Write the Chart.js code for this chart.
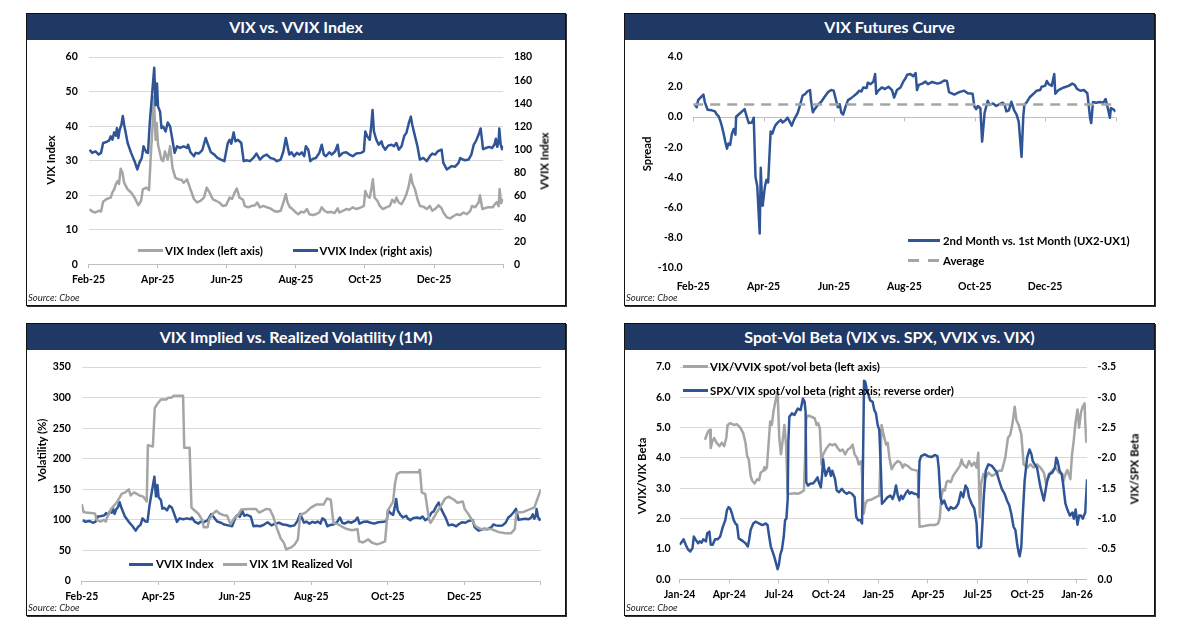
<!DOCTYPE html>
<html>
<head>
<meta charset="utf-8">
<title>VIX dashboard</title>
<script src="https://cdn.jsdelivr.net/npm/chart.js@4.4.1/dist/chart.umd.min.js"></script>
<style>
html,body{margin:0;padding:0;background:#fff;}
body{width:1200px;height:633px;position:relative;overflow:hidden;font-family:Lato,'Open Sans',sans-serif;color:#000;}
.panel{position:absolute;height:293px;background:#fff;}
.frame{position:absolute;left:0;top:0;right:0;bottom:0;border:1px solid #111;box-shadow:1px 1px 0 #333;pointer-events:none;}
.ttl{position:absolute;left:0;top:0;right:0;height:27px;background:#203864;color:#fff;font-weight:700;font-size:16px;line-height:27px;text-align:center;}
canvas{position:absolute;left:0;top:27px;}
.src{position:absolute;left:2px;top:279px;font-size:9.5px;font-style:italic;color:#222;line-height:12px;}
.sw{position:absolute;height:3px;}
.lt{position:absolute;font-size:11.4px;font-weight:700;line-height:14px;white-space:nowrap;}
.at{position:absolute;font-size:11.3px;font-weight:700;white-space:nowrap;transform:translate(-50%,-50%) rotate(-90deg);}
</style>
</head>
<body>

<div class="panel" id="p1" style="left:26px;top:13px;width:540px;">
  <div class="ttl">VIX vs. VVIX Index</div>
  <canvas id="c1" width="540" height="266"></canvas>
  <div class="at" style="left:24px;top:147px;">VIX Index</div>
  <div class="at" style="left:518px;top:148px;">VVIX Index</div>
  <div class="sw" style="left:112px;top:236px;width:25px;background:#A5A5A5;"></div>
  <div class="lt" style="left:139px;top:230.5px;">VIX Index (left axis)</div>
  <div class="sw" style="left:267px;top:236px;width:25px;background:#2F5597;"></div>
  <div class="lt" style="left:293.5px;top:230.5px;">VVIX Index (right axis)</div>
  <div class="src">Source: Cboe</div>
  <div class="frame"></div>
</div>

<div class="panel" id="p2" style="left:624px;top:13px;width:531px;">
  <div class="ttl">VIX Futures Curve</div>
  <canvas id="c2" width="531" height="266"></canvas>
  <div class="at" style="left:21.5px;top:141px;">Spread</div>
  <div class="sw" style="left:283.5px;top:226px;width:32px;background:#2F5597;"></div>
  <div class="lt" style="left:319px;top:220.5px;">2nd Month vs. 1st Month (UX2-UX1)</div>
  <div class="sw" style="left:283.5px;top:246px;width:31px;background:repeating-linear-gradient(90deg,#A5A5A5 0 11px,transparent 11px 20px);"></div>
  <div class="lt" style="left:319px;top:240.5px;">Average</div>
  <div class="src">Source: Cboe</div>
  <div class="frame"></div>
</div>

<div class="panel" id="p3" style="left:26px;top:323px;width:540px;">
  <div class="ttl">VIX Implied vs. Realized Volatility (1M)</div>
  <canvas id="c3" width="540" height="266"></canvas>
  <div class="at" style="left:15px;top:127px;">Volatility (%)</div>
  <div class="sw" style="left:103px;top:239.5px;width:24px;background:#2F5597;"></div>
  <div class="lt" style="left:130px;top:234px;">VVIX Index</div>
  <div class="sw" style="left:196.5px;top:239.5px;width:24px;background:#A5A5A5;"></div>
  <div class="lt" style="left:223.5px;top:234px;">VIX 1M Realized Vol</div>
  <div class="src">Source: Cboe</div>
  <div class="frame"></div>
</div>

<div class="panel" id="p4" style="left:624px;top:323px;width:531px;">
  <div class="ttl">Spot-Vol Beta (VIX vs. SPX, VVIX vs. VIX)</div>
  <canvas id="c4" width="531" height="266"></canvas>
  <div class="at" style="left:17px;top:153px;">VVIX/VIX Beta</div>
  <div class="at" style="left:509.5px;top:146px;">VIX/SPX Beta</div>
  <div class="sw" style="left:59px;top:42px;width:24.5px;background:#A5A5A5;"></div>
  <div class="lt" style="left:86px;top:36.5px;">VIX/VVIX spot/vol beta (left axis)</div>
  <div class="sw" style="left:59px;top:66px;width:24.5px;background:#2F5597;"></div>
  <div class="lt" style="left:86px;top:60.5px;">SPX/VIX spot/vol beta (right axis; reverse order)</div>
  <div class="src">Source: Cboe</div>
  <div class="frame"></div>
</div>

<script>
// ---------------- DATA ----------------
// x positions are months since 1 Feb 2025 (panels 1-3) or since 1 Jan 2024 (panel 4)

// Tick labels
const monthTicks2025 = [0, 2, 4, 6, 8, 10, 12];
const monthLabels2025 = ['Feb-25', 'Apr-25', 'Jun-25', 'Aug-25', 'Oct-25', 'Dec-25', ''];
const quarterTicks = [0, 3, 6, 9, 12, 15, 18, 21, 24];
const quarterLabels = ['Jan-24', 'Apr-24', 'Jul-24', 'Oct-24', 'Jan-25', 'Apr-25', 'Jul-25', 'Oct-25', 'Jan-26'];
const vixAxisTicks = [0, 10, 20, 30, 40, 50, 60];
const vvixAxisTicks = [0, 20, 40, 60, 80, 100, 120, 140, 160, 180];
const spreadAxisTicks = [-10, -8, -6, -4, -2, 0, 2, 4];
const volAxisTicks = [0, 50, 100, 150, 200, 250, 300, 350];
const betaLeftTicks = [0, 1, 2, 3, 4, 5, 6, 7];
const betaRightTicks = [-3.5, -3, -2.5, -2, -1.5, -1, -0.5, 0];

// Panel 1: VIX index (left axis)
const vixMonths = [
  0.03,0.10,0.20,0.29,0.36,0.42,0.52,0.64,0.69,0.74,
  0.79,0.84,0.88,0.93,0.98,1.03,1.13,1.23,1.33,1.44,
  1.52,1.57,1.67,1.75,1.80,1.85,1.89,1.94,1.97,2.01,
  2.11,2.16,2.21,2.29,2.36,2.43,2.51,2.60,2.70,2.75,
  2.85,2.95,3.05,3.14,3.24,3.34,3.42,3.49,3.59,3.69,
  3.78,3.88,3.98,4.08,4.15,4.23,4.29,4.37,4.47,4.52,
  4.62,4.72,4.82,4.88,4.96,5.06,5.16,5.26,5.36,5.45,
  5.56,5.64,5.71,5.76,5.83,5.90,6.00,6.07,6.15,6.24,
  6.32,6.39,6.49,6.58,6.68,6.75,6.83,6.92,7.02,7.12,
  7.21,7.26,7.36,7.46,7.55,7.65,7.75,7.89,7.97,8.01,
  8.07,8.14,8.20,8.23,8.28,8.36,8.43,8.52,8.62,8.72,
  8.79,8.86,8.91,8.98,9.06,9.14,9.20,9.27,9.33,9.37,
  9.45,9.52,9.59,9.69,9.79,9.88,9.95,10.03,10.13,10.22,
  10.27,10.37,10.47,10.56,10.66,10.76,10.85,10.95,11.05,11.10,
  11.19,11.29,11.33,11.40,11.55,11.70,11.77,11.82,11.87,11.90,
  11.94,12.00];
const vixValues = [
  16.0,15.3,15.0,15.5,15.3,18.1,18.9,19.3,20.8,21.7,
  23.2,24.1,23.3,27.7,26.5,23.6,21.7,20.8,19.3,17.1,
  18.4,21.7,22.2,21.5,31.3,39.9,48.5,36.1,40.9,34.6,
  30.3,29.9,32.7,30.3,34.2,27.9,25.1,24.6,24.4,23.6,
  24.6,21.7,18.9,17.9,18.4,19.3,22.2,21.0,18.9,18.4,
  17.9,16.9,17.1,19.3,18.9,20.8,21.9,19.3,18.7,16.9,
  16.5,16.9,17.1,17.9,16.5,16.9,16.5,16.2,15.5,15.2,
  15.5,17.9,20.3,17.9,16.5,16.0,15.0,14.5,15.2,15.0,
  16.0,14.5,14.3,14.5,15.0,16.5,15.5,15.0,15.2,14.8,
  16.2,15.0,15.5,16.0,15.8,16.5,16.0,16.5,16.9,21.2,
  19.8,19.3,22.7,24.6,19.3,18.4,16.9,16.0,16.5,16.9,
  18.7,17.9,19.3,17.9,17.4,18.9,20.3,22.7,26.0,23.6,
  21.7,18.9,16.9,16.7,16.0,16.9,15.5,16.0,17.1,16.2,
  15.0,13.6,13.3,13.9,14.5,14.3,15.0,14.5,15.5,16.9,
  16.5,17.9,20.0,16.0,16.5,16.5,17.5,18.0,16.8,21.8,
  17.7,18.9];

// Panel 1 & 3: VVIX index
const vvixMonths = [
  0.03,0.10,0.20,0.29,0.36,0.42,0.49,0.59,0.64,0.69,
  0.74,0.79,0.82,0.86,0.90,0.95,0.99,1.03,1.13,1.23,
  1.33,1.41,1.47,1.54,1.59,1.67,1.72,1.77,1.84,1.90,
  1.94,1.98,2.01,2.07,2.11,2.16,2.23,2.29,2.36,2.41,
  2.49,2.56,2.65,2.75,2.85,2.88,2.95,3.05,3.10,3.19,
  3.29,3.39,3.44,3.54,3.64,3.73,3.83,3.93,4.03,4.08,
  4.13,4.20,4.25,4.32,4.42,4.49,4.57,4.67,4.77,4.86,
  4.96,5.06,5.16,5.26,5.36,5.45,5.56,5.64,5.71,5.76,
  5.81,5.87,5.95,6.03,6.10,6.17,6.24,6.29,6.36,6.42,
  6.49,6.58,6.68,6.75,6.81,6.87,6.97,7.04,7.14,7.21,
  7.26,7.36,7.46,7.55,7.65,7.75,7.89,7.97,8.01,8.07,
  8.14,8.18,8.22,8.26,8.33,8.40,8.48,8.52,8.59,8.67,
  8.77,8.84,8.91,8.98,9.06,9.14,9.20,9.27,9.33,9.37,
  9.45,9.52,9.59,9.69,9.79,9.88,9.95,10.03,10.11,10.22,
  10.27,10.37,10.44,10.51,10.61,10.71,10.76,10.83,10.90,11.00,
  11.08,11.15,11.21,11.29,11.35,11.42,11.50,11.60,11.68,11.75,
  11.79,11.83,11.87,11.89,11.93,11.97,12.00];
const vvixValues = [
  99.6,96.8,98.2,95.3,96.8,105.4,106.0,107.4,111.1,108.2,
  114.6,111.7,118.3,109.7,116.9,121.2,128.9,121.2,105.4,96.8,
  89.6,82.4,88.1,92.4,102.5,97.3,96.8,122.6,148.4,170.8,
  138.3,157.0,137.0,132.6,118.3,119.7,115.4,123.2,119.7,111.1,
  96.8,102.5,101.1,102.5,101.1,103.9,97.3,93.9,96.8,96.2,
  99.1,109.7,105.4,97.3,95.3,92.4,91.0,89.6,105.4,108.2,
  104.8,114.6,106.8,108.2,105.4,89.6,90.4,89.6,92.4,96.2,
  91.0,93.9,95.3,92.4,91.6,89.6,91.0,98.2,109.7,102.5,
  95.3,97.3,93.9,96.8,95.3,97.3,93.9,102.5,99.6,89.6,
  91.6,92.4,96.8,103.9,95.3,93.9,97.3,95.3,98.2,103.9,
  93.9,96.8,97.3,95.3,93.9,96.2,96.8,98.2,115.4,111.1,
  108.2,119.7,134.1,115.4,108.2,103.9,106.8,102.5,99.6,103.1,
  103.9,102.5,105.4,99.6,102.5,111.7,114.0,122.6,128.3,121.2,
  111.1,102.5,91.0,92.4,89.6,93.9,96.2,95.3,98.2,99.6,
  88.1,82.4,83.9,85.3,84.8,88.1,92.4,91.0,90.4,91.0,
  95.3,103.9,106.8,112.5,118.0,100.0,101.0,102.0,101.0,104.0,
  109.0,102.0,107.0,118.0,104.0,100.0,103.0];

// Panel 2: UX2-UX1 spread
const spreadMonths = [
  0.03,0.10,0.14,0.24,0.29,0.33,0.41,0.53,0.62,0.67,
  0.72,0.77,0.81,0.86,0.91,0.96,1.00,1.05,1.10,1.15,
  1.20,1.22,1.29,1.39,1.46,1.53,1.58,1.67,1.72,1.77,
  1.82,1.89,1.92,1.96,1.98,2.04,2.08,2.13,2.20,2.25,
  2.30,2.34,2.42,2.49,2.54,2.63,2.68,2.73,2.80,2.87,
  2.97,3.03,3.11,3.19,3.25,3.32,3.35,3.40,3.44,3.54,
  3.64,3.73,3.83,3.92,3.99,4.07,4.11,4.16,4.21,4.26,
  4.33,4.40,4.47,4.55,4.64,4.72,4.78,4.83,4.93,4.96,
  5.04,5.12,5.17,5.20,5.26,5.36,5.45,5.55,5.65,5.71,
  5.79,5.89,5.98,6.03,6.08,6.17,6.25,6.32,6.36,6.41,
  6.51,6.60,6.67,6.79,6.94,7.03,7.13,7.21,7.27,7.42,
  7.56,7.70,7.80,7.94,7.99,8.04,8.09,8.16,8.21,8.28,
  8.37,8.42,8.52,8.61,8.71,8.80,8.85,8.90,8.97,9.04,
  9.12,9.19,9.25,9.33,9.38,9.41,9.47,9.57,9.67,9.76,
  9.86,9.90,10.00,10.05,10.10,10.19,10.26,10.29,10.38,10.53,
  10.67,10.77,10.84,10.91,11.00,11.10,11.20,11.28,11.31,11.36,
  11.45,11.55,11.65,11.72,11.79,11.84,11.87,11.95,12.00];
const spreadValues = [
  0.87,0.66,1.13,1.38,1.50,1.00,0.49,0.45,0.38,0.17,
  0.06,-0.25,-0.57,-1.04,-1.63,-2.10,-1.76,-1.85,-1.10,-0.79,
  -1.17,0.02,0.17,0.38,0.53,-0.04,-0.40,-0.36,-0.04,-3.97,
  -4.60,-7.75,-3.38,-5.88,-5.77,-4.60,-4.18,-4.35,-0.96,-1.10,
  -0.74,-0.53,-0.32,-0.19,-0.36,-0.19,-0.04,-0.25,-0.57,-0.15,
  0.28,0.74,1.44,1.55,1.72,1.80,1.08,0.32,0.49,0.81,
  1.02,1.34,1.66,1.80,1.76,1.02,0.66,0.87,0.28,0.17,
  0.70,1.13,1.23,1.38,1.55,1.76,1.70,1.97,1.93,2.29,
  2.19,2.36,2.87,1.55,1.76,1.97,1.87,2.02,1.80,1.30,
  1.80,1.97,2.40,2.57,2.82,2.87,2.72,2.93,1.80,2.14,
  2.23,2.36,2.19,2.34,2.23,2.29,2.44,2.40,1.66,1.50,
  1.66,1.76,1.59,1.55,0.70,0.53,0.74,0.59,-1.63,0.28,
  1.08,0.81,0.91,0.74,0.87,0.96,0.81,0.38,0.45,1.02,
  0.45,0.17,-0.32,-2.65,0.06,0.81,0.96,1.34,1.55,1.76,
  1.80,2.02,2.08,2.40,2.19,2.08,2.87,1.55,1.80,1.97,
  2.08,2.23,2.14,1.87,1.76,1.80,1.59,-0.10,-0.40,1.00,
  0.95,1.00,0.95,1.20,0.50,-0.05,0.60,0.50,0.35];
const spreadAverage = 0.83;

// Panel 3: VIX 1M realized volatility
const rvolMonths = [
  0.00,0.05,0.11,0.30,0.35,0.39,0.49,0.58,0.63,0.67,
  0.77,0.91,1.05,1.14,1.23,1.28,1.37,1.51,1.61,1.70,
  1.73,1.86,1.91,1.98,2.07,2.21,2.26,2.35,2.40,2.65,
  2.68,2.82,2.87,2.96,3.05,3.15,3.19,3.29,3.33,3.43,
  3.52,3.61,3.75,3.80,3.89,3.99,4.08,4.17,4.36,4.55,
  4.64,4.83,4.92,5.01,5.11,5.20,5.29,5.34,5.48,5.57,
  5.65,5.71,5.85,5.99,6.13,6.32,6.41,6.51,6.58,6.69,
  6.83,6.93,7.07,7.21,7.25,7.35,7.49,7.58,7.72,7.82,
  7.93,8.00,8.14,8.19,8.24,8.33,8.80,8.84,8.89,8.98,
  9.08,9.12,9.26,9.36,9.50,9.59,9.73,9.82,9.96,10.01,
  10.10,10.20,10.29,10.43,10.71,10.90,11.08,11.22,11.32,11.36,
  11.55,11.74,11.83,12.00];
const rvolValues = [
  126,113,112,111,110,100,97,100,97,105,
  118,128,143,145,150,140,145,140,138,130,
  222,220,283,290,297,297,300,300,303,303,
  218,218,120,115,110,100,88,88,100,110,
  115,110,107,107,93,103,107,117,118,118,
  112,118,117,105,85,70,62,52,55,60,
  68,108,112,120,125,125,135,133,95,93,
  88,85,83,85,65,63,68,63,60,62,
  65,115,130,160,175,178,178,182,145,142,
  100,95,110,120,135,138,133,128,130,118,
  110,100,90,85,85,80,78,78,85,112,
  113,118,120,150];

// Panel 4: VIX/VVIX spot-vol beta (left axis)
const betaVvixMonths = [
  1.53,1.63,1.73,1.84,1.88,1.98,2.08,2.24,2.41,2.55,
  2.69,2.82,2.90,3.06,3.27,3.47,3.67,3.84,3.98,4.08,
  4.18,4.29,4.39,4.53,4.69,4.80,4.90,5.06,5.12,5.16,
  5.27,5.35,5.47,5.57,5.67,5.82,5.92,6.02,6.12,6.22,
  6.33,6.43,6.53,6.73,6.94,7.14,7.35,7.51,7.65,7.76,
  7.96,8.16,8.27,8.37,8.47,8.57,8.67,8.88,9.08,9.22,
  9.39,9.55,9.69,9.84,10.00,10.16,10.31,10.45,10.57,10.71,
  10.82,10.98,11.12,11.22,11.33,11.55,11.86,12.06,12.20,12.32,
  12.47,12.57,12.67,12.81,12.97,13.18,13.34,13.48,13.58,13.78,
  13.99,14.19,14.39,14.49,14.80,15.10,15.41,15.61,15.71,15.81,
  15.91,16.02,16.12,16.22,16.38,16.52,16.73,16.93,17.03,17.13,
  17.33,17.48,17.64,17.80,17.94,18.04,18.13,18.21,18.35,18.49,
  18.65,18.86,19.06,19.26,19.46,19.67,19.83,19.97,20.11,20.24,
  20.34,20.48,20.64,20.78,20.99,21.19,21.39,21.59,21.80,22.00,
  22.14,22.30,22.51,22.71,22.91,23.12,23.16,23.33,23.42,23.60,
  23.70,23.81,23.92,24.03,24.13,24.24,24.35,24.46,24.50,24.57];
const betaVvixValues = [
  4.60,4.75,4.88,4.93,4.33,4.55,4.66,4.50,4.39,4.50,
  4.39,4.66,5.09,5.15,5.09,5.11,5.00,4.82,4.50,4.06,
  3.95,3.41,3.25,3.16,3.30,3.27,3.52,3.58,3.70,3.60,
  3.68,4.28,5.20,5.09,5.53,5.96,6.18,4.66,4.12,4.55,
  5.09,4.44,2.82,2.82,2.84,2.82,2.87,2.93,5.31,5.40,
  5.36,5.31,5.09,5.15,4.98,3.79,4.12,4.33,4.46,4.42,
  4.46,4.33,4.23,4.28,4.12,4.28,4.33,4.44,4.12,4.01,
  3.79,3.90,2.17,2.49,2.60,2.62,2.71,2.76,5.09,4.77,
  4.44,4.50,4.01,3.63,3.79,3.90,3.85,3.68,3.79,3.74,
  3.63,3.60,3.58,1.73,1.76,1.79,1.79,1.84,2.00,2.71,
  2.98,2.93,3.20,3.25,3.20,3.41,3.58,3.74,3.95,3.79,
  3.68,3.90,3.74,3.85,3.68,4.17,2.06,3.14,3.47,3.36,
  3.52,3.41,3.47,3.58,3.58,4.01,4.66,4.77,5.15,5.69,
  5.25,5.09,4.77,3.79,3.68,3.79,3.68,3.79,3.68,3.52,
  3.14,3.47,3.58,3.68,3.52,3.47,3.20,3.50,3.60,3.30,
  4.10,4.60,5.20,5.60,5.00,5.50,5.70,5.80,5.20,4.50];

// Panel 4: SPX/VIX spot-vol beta (right axis, reversed)
const betaSpxMonths = [
  0.00,0.16,0.24,0.37,0.51,0.65,0.78,0.86,0.98,1.12,
  1.22,1.33,1.43,1.59,1.67,1.80,1.88,2.00,2.14,2.29,
  2.45,2.61,2.76,2.86,2.96,3.06,3.16,3.27,3.37,3.47,
  3.57,3.71,3.84,3.98,4.12,4.20,4.29,4.45,4.59,4.80,
  5.00,5.20,5.31,5.41,5.51,5.61,5.71,5.82,5.92,6.00,
  6.08,6.18,6.29,6.37,6.45,6.53,6.57,6.63,6.78,6.94,
  7.04,7.14,7.31,7.45,7.55,7.61,7.65,7.76,7.92,8.06,
  8.20,8.33,8.41,8.53,8.61,8.67,8.73,8.82,8.94,9.02,
  9.14,9.22,9.39,9.49,9.63,9.80,9.96,10.10,10.24,10.41,
  10.57,10.61,10.67,10.78,10.92,11.02,11.08,11.14,11.22,11.30,
  11.51,11.66,11.76,11.86,11.96,12.06,12.16,12.22,12.32,12.47,
  12.57,12.73,12.87,12.97,13.07,13.18,13.28,13.38,13.48,13.69,
  13.79,13.89,13.99,14.19,14.35,14.43,14.49,14.59,14.80,15.00,
  15.21,15.41,15.57,15.65,15.75,15.85,15.98,16.12,16.26,16.38,
  16.52,16.67,16.83,16.99,17.13,17.27,17.39,17.48,17.64,17.80,
  17.94,18.00,18.08,18.21,18.29,18.37,18.49,18.65,18.86,19.02,
  19.16,19.30,19.46,19.63,19.77,19.91,20.03,20.17,20.28,20.38,
  20.48,20.54,20.64,20.72,20.84,20.99,21.13,21.25,21.33,21.45,
  21.59,21.69,21.80,21.90,22.00,22.10,22.20,22.35,22.51,22.67,
  22.75,22.83,22.95,23.08,23.15,23.30,23.42,23.57,23.72,23.81,
  23.92,24.03,24.13,24.24,24.35,24.50,24.61];
const betaSpxValues = [
  -0.57,-0.625,-0.66,-0.57,-0.49,-0.46,-0.515,-0.705,-0.65,-0.595,
  -0.625,-0.605,-0.66,-0.625,-0.76,-0.785,-0.57,-0.57,-0.66,-0.66,
  -0.705,-0.865,-0.975,-1.14,-1.19,-1.165,-1.085,-0.975,-0.92,-0.895,
  -0.675,-0.65,-0.625,-0.595,-0.54,-0.65,-0.815,-0.92,-0.95,-0.92,
  -0.895,-0.92,-0.895,-0.705,-0.54,-0.46,-0.38,-0.27,-0.165,-0.245,
  -0.405,-0.49,-0.705,-0.975,-1.0,-1.325,-2.275,-2.68,-2.735,-2.71,
  -2.765,-2.815,-2.79,-2.98,-2.925,-2.765,-1.6,-1.545,-1.58,-1.58,
  -1.625,-1.68,-1.6,-1.515,-1.735,-1.975,-1.84,-1.705,-1.79,-1.84,
  -1.705,-1.79,-1.65,-1.465,-1.435,-1.49,-1.435,-1.41,-1.435,-1.41,
  -1.355,-1.22,-1.03,-0.975,-0.975,-0.92,-2.005,-3.275,-3.25,-3.14,
  -2.95,-2.925,-2.79,-2.735,-2.545,-2.465,-1.79,-1.245,-1.275,-1.325,
  -1.355,-1.38,-1.325,-1.41,-1.545,-1.38,-1.3,-1.38,-1.325,-1.435,
  -1.465,-1.41,-1.435,-1.41,-1.4,-1.355,-1.95,-2.03,-2.06,-2.03,
  -2.015,-2.05,-2.03,-1.84,-1.355,-1.245,-1.3,-1.19,-1.14,-1.19,
  -1.165,-1.18,-1.245,-1.435,-1.355,-1.545,-1.49,-1.355,-1.245,-1.165,
  -0.92,-0.54,-0.515,-0.54,-0.92,-1.355,-1.79,-1.895,-1.87,-1.815,
  -1.76,-1.625,-1.49,-1.41,-1.3,-1.22,-1.085,-0.865,-0.815,-0.595,
  -0.435,-0.38,-0.54,-1.03,-1.625,-2.005,-2.14,-2.06,-1.95,-1.895,
  -1.84,-1.68,-1.515,-1.41,-1.3,-1.465,-1.625,-1.735,-1.76,-1.84,
  -2.005,-1.95,-1.79,-1.735,-1.6,-1.25,-1.15,-1.05,-1.1,-1.0,
  -1.15,-0.9,-1.05,-1.05,-1.0,-1.1,-1.65];

// ---------------- RENDERING ----------------
const BLUE = '#2F5597', GRAY = '#A5A5A5', GRID = '#D9D9D9', AXIS = '#BFBFBF';
Chart.defaults.font.family = "Lato, 'Open Sans', sans-serif";
Chart.defaults.color = '#000';
const TICK_FONT = {size: 10.5, weight: 'bold'};

function pts(xs, ys) { return xs.map((x, i) => ({x: x, y: ys[i]})); }
function fixedTicks(vals) { return s => { s.ticks = vals.map(v => ({value: v})); }; }

function xAxis(c) {
  return {
    type: 'linear', position: 'bottom', min: c.min, max: c.max,
    afterBuildTicks: fixedTicks(c.ticks),
    afterFit: s => { s.height = c.h; },
    ticks: {autoSkip: false, maxRotation: 0, minRotation: 0, padding: c.pad, font: TICK_FONT, color: '#000',
            callback: (v, i) => c.labels[i]},
    grid: {display: c.marks, drawOnChartArea: false, drawTicks: true, tickLength: 4, color: AXIS, lineWidth: 1},
    border: {display: c.line, color: AXIS, width: 1}
  };
}
function yAxis(c) {
  return {
    type: 'linear', position: c.pos, min: c.min, max: c.max, reverse: !!c.reverse,
    afterBuildTicks: fixedTicks(c.ticks),
    afterFit: s => { s.width = c.w; },
    ticks: {padding: c.pad, font: TICK_FONT, color: '#000',
            callback: v => (c.dec ? Number(v).toFixed(c.dec) : String(v))},
    grid: c.grid ? {drawTicks: false, lineWidth: 1, color: ctx => (ctx.tick ? c.grid(ctx.tick.value) : 'transparent')}
                 : {display: false, drawTicks: false},
    border: {display: false}
  };
}
function line(data, color, axis, extra) {
  return Object.assign({data: data, borderColor: color, backgroundColor: color, borderWidth: 2.5,
    pointRadius: 0, pointHoverRadius: 0, tension: 0, fill: false, yAxisID: axis,
    borderJoinStyle: 'round', borderCapStyle: 'butt'}, extra || {});
}
function opts(padding, scales) {
  return {responsive: false, animation: false, devicePixelRatio: 1, events: [],
          layout: {padding: padding}, scales: scales,
          plugins: {legend: {display: false}, tooltip: {enabled: false}, title: {display: false}}};
}
const gridExceptZero = v => (v === 0 ? 'transparent' : GRID);

// Panel 1
new Chart(document.getElementById('c1'), {
  type: 'line',
  data: {datasets: [
    line(pts(vvixMonths, vvixValues), BLUE, 'y2', {label: 'VVIX Index (right axis)'}),
    line(pts(vixMonths, vixValues), GRAY, 'y', {label: 'VIX Index (left axis)'})
  ]},
  options: opts({left: 0, right: 0, top: 14.7, bottom: 0}, {
    x: xAxis({min: 0, max: 12, ticks: monthTicks2025, labels: monthLabels2025, h: 41.7, pad: 5, marks: true, line: true}),
    y: yAxis({pos: 'left', min: 0, max: 60, ticks: vixAxisTicks, w: 62.6, pad: 10.8, grid: gridExceptZero}),
    y2: yAxis({pos: 'right', min: 0, max: 180, ticks: vvixAxisTicks, w: 62.9, pad: 10.8, grid: null})
  })
});

// Panel 2
const zeroLineTicks = {
  id: 'zeroLineTicks',
  beforeDatasetsDraw(chart) {
    const ctx = chart.ctx, x = chart.scales.x, y = chart.scales.y;
    const y0 = Math.round(y.getPixelForValue(0)) + 0.5;
    ctx.save();
    ctx.strokeStyle = AXIS; ctx.lineWidth = 1;
    monthTicks2025.forEach(v => {
      const px = Math.round(x.getPixelForValue(v)) + 0.5;
      ctx.beginPath(); ctx.moveTo(px, y0); ctx.lineTo(px, y0 + 4); ctx.stroke();
    });
    ctx.restore();
  }
};
new Chart(document.getElementById('c2'), {
  type: 'line',
  data: {datasets: [
    line(pts([0, 12], [spreadAverage, spreadAverage]), GRAY, 'y', {label: 'Average', borderDash: [10, 7]}),
    line(pts(spreadMonths, spreadValues), BLUE, 'y', {label: '2nd Month vs. 1st Month (UX2-UX1)'})
  ]},
  options: opts({left: 0, right: 39.5, top: 7, bottom: 0}, {
    x: xAxis({min: 0, max: 12, ticks: monthTicks2025, labels: monthLabels2025, h: 38.7, pad: 9, marks: false, line: false}),
    y: yAxis({pos: 'left', min: -10, max: 4, ticks: spreadAxisTicks, w: 69.2, pad: 10.7, dec: 1,
              grid: v => (v === 0 ? AXIS : 'transparent')})
  }),
  plugins: [zeroLineTicks]
});

// Panel 3
new Chart(document.getElementById('c3'), {
  type: 'line',
  data: {datasets: [
    line(pts(rvolMonths, rvolValues), GRAY, 'y', {label: 'VIX 1M Realized Vol'}),
    line(pts(vvixMonths, vvixValues), BLUE, 'y', {label: 'VVIX Index'})
  ]},
  options: opts({left: 0, right: 25.2, top: 14, bottom: 0}, {
    x: xAxis({min: 0, max: 12, ticks: monthTicks2025, labels: monthLabels2025, h: 35, pad: 5, marks: true, line: true}),
    y: yAxis({pos: 'left', min: 0, max: 350, ticks: volAxisTicks, w: 55.7, pad: 10.8, grid: gridExceptZero})
  })
});

// Panel 4
new Chart(document.getElementById('c4'), {
  type: 'line',
  data: {datasets: [
    line(pts(betaSpxMonths, betaSpxValues), BLUE, 'y2', {label: 'SPX/VIX spot/vol beta (right axis; reverse order)'}),
    line(pts(betaVvixMonths, betaVvixValues), GRAY, 'y', {label: 'VIX/VVIX spot/vol beta (left axis)'})
  ]},
  options: opts({left: 0, right: 0, top: 13, bottom: 0}, {
    x: xAxis({min: 0, max: 24.6, ticks: quarterTicks, labels: quarterLabels, h: 36.7, pad: 5, marks: true, line: true}),
    y: yAxis({pos: 'left', min: 0, max: 7, ticks: betaLeftTicks, w: 55.6, pad: 9, dec: 1, grid: gridExceptZero}),
    y2: yAxis({pos: 'right', min: -3.5, max: 0, reverse: true, ticks: betaRightTicks, w: 68.1, pad: 10.7, dec: 1, grid: null})
  })
});
</script>
</body>
</html>
